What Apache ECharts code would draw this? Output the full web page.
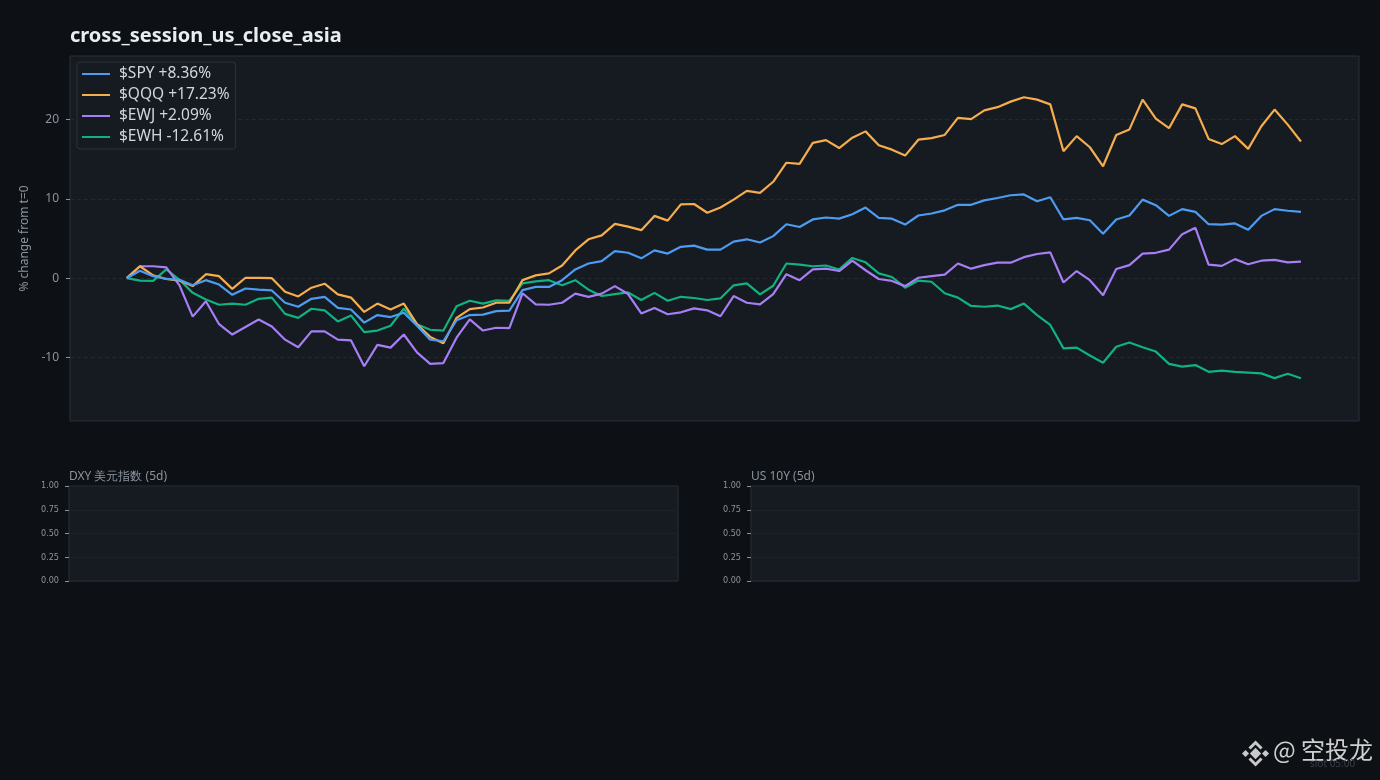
<!DOCTYPE html>
<html>
<head>
<meta charset="utf-8">
<title>cross_session_us_close_asia</title>
<script src="https://cdn.jsdelivr.net/npm/echarts@6/dist/echarts.min.js"></script>
<style>
  html, body { margin: 0; padding: 0; background: #0d1015; }
  #main { width: 1380px; height: 780px; }
</style>
</head>
<body>
<div id="main"></div>
<script>
// 数据：各标的相对 t=0 的涨跌幅 (%)
var spyData = [0, 0.93, 0.25, -0.1, -0.2, -0.9, -0.25, -0.8, -2.1, -1.3,
    -1.45, -1.55, -3.1, -3.6, -2.6, -2.35, -3.75, -3.95, -5.6, -4.65,
    -4.9, -4.35, -6.0, -7.75, -7.95, -5.3, -4.65, -4.6, -4.15, -4.1,
    -1.5, -1.1, -1.1, -0.25, 1.1, 1.85, 2.15, 3.4, 3.2, 2.5,
    3.5, 3.1, 3.95, 4.1, 3.6, 3.6, 4.6, 4.9, 4.5, 5.3,
    6.8, 6.45, 7.4, 7.65, 7.5, 8.05, 8.9, 7.6, 7.5, 6.75,
    7.9, 8.15, 8.55, 9.25, 9.25, 9.8, 10.1, 10.45, 10.55, 9.7,
    10.2, 7.4, 7.6, 7.3, 5.6, 7.4, 7.9, 9.9, 9.2, 7.85,
    8.7, 8.35, 6.8, 6.75, 6.9, 6.1, 7.85, 8.7, 8.5, 8.36];
var qqqData = [0, 1.5, 0.35, -0.1, -0.3, -1.0, 0.5, 0.25, -1.35, 0.05,
    0.05, 0, -1.7, -2.3, -1.2, -0.7, -2.05, -2.45, -4.25, -3.2,
    -3.95, -3.2, -5.8, -7.4, -8.2, -5.0, -3.9, -3.7, -3.1, -3.1,
    -0.25, 0.35, 0.6, 1.6, 3.5, 4.9, 5.4, 6.85, 6.5, 6.05,
    7.85, 7.25, 9.3, 9.35, 8.25, 8.9, 9.9, 11.0, 10.75, 12.15,
    14.55, 14.4, 17.05, 17.4, 16.4, 17.7, 18.5, 16.75, 16.2, 15.45,
    17.45, 17.65, 18.05, 20.2, 20.05, 21.15, 21.55, 22.25, 22.8, 22.5,
    21.9, 16.0, 17.9, 16.5, 14.1, 18.05, 18.75, 22.5, 20.1, 18.9,
    21.9, 21.4, 17.55, 16.9, 17.9, 16.3, 19.15, 21.25, 19.35, 17.23];
var ewjData = [0, 1.5, 1.5, 1.35, -0.9, -4.85, -2.9, -5.8, -7.1, -6.15,
    -5.2, -6.1, -7.75, -8.7, -6.7, -6.7, -7.75, -7.85, -11.1, -8.4,
    -8.75, -7.1, -9.35, -10.8, -10.7, -7.5, -5.2, -6.6, -6.25, -6.3,
    -1.9, -3.3, -3.35, -3.1, -1.95, -2.35, -1.95, -1.0, -2.0, -4.45,
    -3.75, -4.55, -4.3, -3.8, -4.05, -4.8, -2.25, -3.1, -3.3, -2.0,
    0.5, -0.25, 1.1, 1.2, 0.9, 2.2, 1.0, -0.1, -0.35, -1.0,
    0.05, 0.25, 0.45, 1.85, 1.2, 1.65, 1.95, 1.95, 2.65, 3.05,
    3.25, -0.55, 0.9, -0.25, -2.15, 1.15, 1.65, 3.1, 3.2, 3.6,
    5.55, 6.35, 1.7, 1.55, 2.4, 1.75, 2.2, 2.3, 2.0, 2.09];
var ewhData = [0, -0.3, -0.35, 1.1, -0.2, -1.85, -2.7, -3.35, -3.2, -3.35,
    -2.6, -2.45, -4.5, -5.0, -3.85, -4.05, -5.45, -4.7, -6.8, -6.6,
    -6.0, -3.85, -5.8, -6.5, -6.6, -3.55, -2.85, -3.2, -2.8, -2.85,
    -0.65, -0.4, -0.25, -0.9, -0.25, -1.45, -2.25, -2.0, -1.8, -2.75,
    -1.85, -2.85, -2.35, -2.5, -2.75, -2.55, -0.9, -0.65, -2.05, -0.95,
    1.85, 1.7, 1.5, 1.6, 1.1, 2.55, 2.0, 0.6, 0.15, -1.2,
    -0.3, -0.45, -1.9, -2.45, -3.5, -3.6, -3.45, -3.9, -3.2, -4.65,
    -5.9, -8.85, -8.75, -9.75, -10.65, -8.65, -8.1, -8.7, -9.25, -10.8,
    -11.15, -10.95, -11.8, -11.65, -11.8, -11.9, -12.0, -12.6, -12.05, -12.61];

var seriesNames = ['$SPY +8.36%', '$QQQ +17.23%', '$EWJ +2.09%', '$EWH -12.61%'];
var seriesColors = ['#4d9cf2', '#f5ad4d', '#a77ff5', '#10b280'];
var mainTicks = [-10, 0, 10, 20];
var smallTicks = [0, 0.25, 0.5, 0.75, 1];
var panelTitles = ['DXY 美元指数 (5d)', 'US 10Y (5d)'];

var gridBg = '#161a21';
var borderColor = '#2a2f38';
var labelColor = '#8b949e';

function toPoints(arr) {
    var pts = [];
    for (var i = 0; i < arr.length; i++) {
        pts.push([i, arr[i]]);
    }
    return pts;
}

var allData = [spyData, qqqData, ewjData, ewhData];
var series = [];
for (var k = 0; k < allData.length; k++) {
    series.push({
        name: seriesNames[k],
        type: 'line',
        xAxisIndex: 0,
        yAxisIndex: 0,
        data: toPoints(allData[k]),
        showSymbol: false,
        symbol: 'none',
        lineStyle: { width: 2.2, color: seriesColors[k] },
        itemStyle: { color: seriesColors[k] },
        z: 10 - k
    });
}

// 下方两个空面板
var smallGrids = [
    { left: 69, top: 486, width: 609, height: 95 },
    { left: 751, top: 486, width: 608, height: 95 }
];

var grids = [{
    left: 70, top: 56, right: 21, bottom: 359,
    show: true, backgroundColor: gridBg, borderColor: borderColor, borderWidth: 1
}];
var xAxes = [{
    type: 'value', gridIndex: 0, min: -4.3, max: 93.4,
    axisLine: { show: false }, axisTick: { show: false },
    axisLabel: { show: false }, splitLine: { show: false }
}];
var yAxes = [{
    type: 'value', gridIndex: 0, min: -18, max: 28,
    name: '% change from t=0',
    nameLocation: 'middle',
    nameGap: 36,
    nameTextStyle: { color: labelColor, fontSize: 12, fontFamily: 'Noto Sans' },
    axisLine: { show: false, onZero: false },
    axisTick: { show: true, length: 4, customValues: mainTicks, lineStyle: { color: labelColor } },
    axisLabel: { customValues: mainTicks, color: labelColor, fontSize: 12, margin: 11, fontFamily: 'Noto Sans' },
    splitLine: { show: true, lineStyle: { color: '#232832', type: [4, 3], width: 1 } }
}];

for (var g = 0; g < smallGrids.length; g++) {
    grids.push({
        left: smallGrids[g].left, top: smallGrids[g].top,
        width: smallGrids[g].width, height: smallGrids[g].height,
        show: true, backgroundColor: gridBg, borderColor: borderColor, borderWidth: 1
    });
    xAxes.push({
        type: 'value', gridIndex: g + 1, min: 0, max: 1,
        axisLine: { show: false }, axisTick: { show: false },
        axisLabel: { show: false }, splitLine: { show: false }
    });
    yAxes.push({
        type: 'value', gridIndex: g + 1, min: 0, max: 1,
        axisLine: { show: false, onZero: false },
        axisTick: { show: true, length: 4, customValues: smallTicks, lineStyle: { color: labelColor } },
        axisLabel: {
            customValues: smallTicks, color: labelColor, fontSize: 9, margin: 10,
            fontFamily: 'DejaVu Sans Condensed',
            formatter: function (v) { return v.toFixed(2); }
        },
        splitLine: { show: true, lineStyle: { color: '#1d222a', width: 1 } }
    });
    series.push({
        type: 'line', xAxisIndex: g + 1, yAxisIndex: g + 1, data: [], silent: true
    });
}

var chart = echarts.init(document.getElementById('main'), null, { renderer: 'canvas' });
var option = {
    backgroundColor: '#0d1015',
    animation: false,
    title: [{
        text: 'cross_session_us_close_asia',
        left: 65, top: 21,
        textStyle: { color: '#e6edf3', fontSize: 20, fontWeight: 'bold', fontFamily: 'Noto Sans' }
    }, {
        text: panelTitles[0],
        left: 64, top: 466,
        textStyle: { color: labelColor, fontSize: 12, fontWeight: 'normal', fontFamily: 'Noto Sans' }
    }, {
        text: panelTitles[1],
        left: 746, top: 466,
        textStyle: { color: labelColor, fontSize: 12, fontWeight: 'normal', fontFamily: 'Noto Sans' }
    }],
    legend: {
        orient: 'vertical',
        left: 77, top: 62,
        data: seriesNames,
        backgroundColor: '#161a21',
        borderColor: '#2d323b',
        borderWidth: 1,
        borderRadius: 3,
        padding: [4, 6, 4, 5],
        itemGap: 5,
        itemWidth: 28,
        itemHeight: 16,
        icon: 'path://M0,7 L28,7 L28,9 L0,9 Z',
        textStyle: { color: '#d0d7de', fontSize: 15.5, lineHeight: 16, fontFamily: 'Noto Sans', padding: [0, 0, 0, 4] }
    },
    grid: grids,
    xAxis: xAxes,
    yAxis: yAxes,
    series: series,
    graphic: [{
        type: 'group',
        left: 1242, top: 740,
        children: [
            { type: 'rect', shape: { x: -4, y: -4, width: 8, height: 8 }, x: 13, y: 13, rotation: Math.PI / 4, style: { fill: '#c9c9c9' } },
            { type: 'rect', shape: { x: -2.5, y: -2.5, width: 5, height: 5 }, x: 3, y: 13, rotation: Math.PI / 4, style: { fill: '#c9c9c9' } },
            { type: 'rect', shape: { x: -2.5, y: -2.5, width: 5, height: 5 }, x: 23, y: 13, rotation: Math.PI / 4, style: { fill: '#c9c9c9' } },
            { type: 'polyline', shape: { points: [[7, 8], [13, 2], [19, 8]] }, style: { stroke: '#c9c9c9', lineWidth: 3, fill: null } },
            { type: 'polyline', shape: { points: [[7, 18], [13, 24], [19, 18]] }, style: { stroke: '#c9c9c9', lineWidth: 3, fill: null } }
        ]
    }, {
        type: 'text',
        left: 1273, top: 738,
        style: { text: '@ 空投龙', fill: '#cfcfcf', fontSize: 24, fontFamily: 'Noto Sans CJK SC' }
    }, {
        type: 'text',
        left: 1310, top: 759,
        style: { text: 'slot 05:00', fill: '#3a3f47', fontSize: 10, fontFamily: 'Noto Sans' }
    }]
};
chart.setOption(option);
</script>
</body>
</html>
